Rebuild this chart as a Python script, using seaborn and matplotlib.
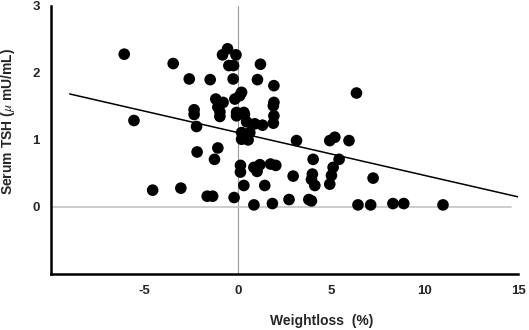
import numpy as np
import pandas as pd
import seaborn as sns
import matplotlib
matplotlib.use('Agg')
import matplotlib.pyplot as plt

# values
weightloss = [-6.08, -5.56, -4.56, -3.46, -3.05, -2.60, -2.34, -2.34, -2.21, -2.18,
              -1.64, -1.48, -1.35, -1.25, -1.18, -1.07, -1.07, -0.96, -0.96, -0.82,
              -0.79, -0.55, -0.48, -0.25, -0.23, -0.20, -0.16, -0.10, -0.07, -0.07,
              0.10, 0.20, 0.14, 0.14, 0.20, 0.20, 0.32, 0.35, 0.47, 0.55,
              0.64, 0.32, 0.86, 0.86, 0.91, 1.03, 1.05, 1.18, 1.21, 1.32,
              1.44, 1.75, 1.85, 1.90, 1.90, 1.93, 1.93, 1.93, 2.03, 2.74,
              2.96, 3.14, 3.80, 3.94, 3.94, 3.99, 4.03, 4.12, 4.92, 5.01,
              5.10, 4.92, 5.19, 5.42, 5.95, 6.35, 6.43, 7.11, 7.24, 8.30,
              8.88, 10.98]
tsh = [2.28, 1.29, 0.25, 2.14, 0.28, 1.91, 1.45, 1.38, 1.20, 0.82,
       0.16, 1.90, 0.16, 0.71, 1.61, 1.49, 0.88, 1.42, 1.35, 2.27,
       1.56, 2.36, 2.11, 1.91, 2.11, 0.14, 1.61, 2.27, 1.41, 1.36,
       1.66, 1.71, 0.62, 0.52, 1.11, 1.01, 1.41, 1.38, 1.27, 1.00,
       1.11, 0.32, 0.59, 0.03, 1.24, 0.53, 1.90, 0.63, 2.13, 1.22,
       0.32, 0.64, 0.05, 1.51, 1.25, 1.36, 1.56, 1.81, 0.62, 0.11,
       0.46, 0.99, 0.11, 0.09, 0.41, 0.49, 0.71, 0.32, 0.34, 0.47,
       0.59, 0.99, 1.04, 0.71, 0.99, 1.70, 0.03, 0.03, 0.43, 0.05,
       0.05, 0.03]
# regression line as drawn in the reference
line_range = [-9, 15]
line_slope = -0.064
line_intercept = 1.11
x_ticks = [-5, 0, 5, 10, 15]
y_ticks = [0, 1, 2, 3]

df = pd.DataFrame({'weightloss': weightloss, 'tsh': tsh})

fit = pd.DataFrame({'x': line_range})
fit['y'] = line_intercept + line_slope * fit['x']

sns.set_style('white')
plt.rcParams['font.family'] = ['Liberation Sans', 'DejaVu Sans']
plt.rcParams['mathtext.fontset'] = 'stix'

fig = plt.figure(figsize=(5.29, 3.30), dpi=100)
ax = fig.add_axes([0.0964, 0.170, 0.883, 0.812])

ax.axvline(0, color='#9a9a9a', lw=0.8, zorder=1)
ax.plot([-10, 14.6], [0, 0], color='#c4c4c4', lw=1.2, zorder=1)

sns.scatterplot(data=df, x='weightloss', y='tsh', color='black', s=70,
                edgecolor='none', ax=ax, zorder=3)
sns.lineplot(data=fit, x='x', y='y', color='black', lw=1.1, ax=ax, zorder=2)

ax.set_xlim(-10, 15)
ax.set_ylim(-1, 3)
ax.set_xticks(x_ticks)
ax.set_yticks(y_ticks)
ax.set_xticklabels([str(t) for t in x_ticks], fontweight='bold', fontsize=9.5)
ax.set_yticklabels([str(t) for t in y_ticks], fontweight='bold', fontsize=9.5)
ax.tick_params(axis='both', direction='in', length=6, width=1.6, color='black')
ax.tick_params(axis='x', pad=8)
ax.tick_params(axis='y', pad=8)

sns.despine(ax=ax)
for side in ['left', 'bottom']:
    ax.spines[side].set_linewidth(1.8)
    ax.spines[side].set_color('black')

ax.set_xlabel('Weightloss  (%)', fontweight='bold', fontsize=10)
ax.set_ylabel(r'Serum TSH ($\mu$ mU/mL)', fontweight='bold', fontsize=10)
ax.xaxis.set_label_coords(0.58, -0.15)
ax.yaxis.set_label_coords(-0.073, 0.57)

fig.savefig('out.png', dpi=100)
